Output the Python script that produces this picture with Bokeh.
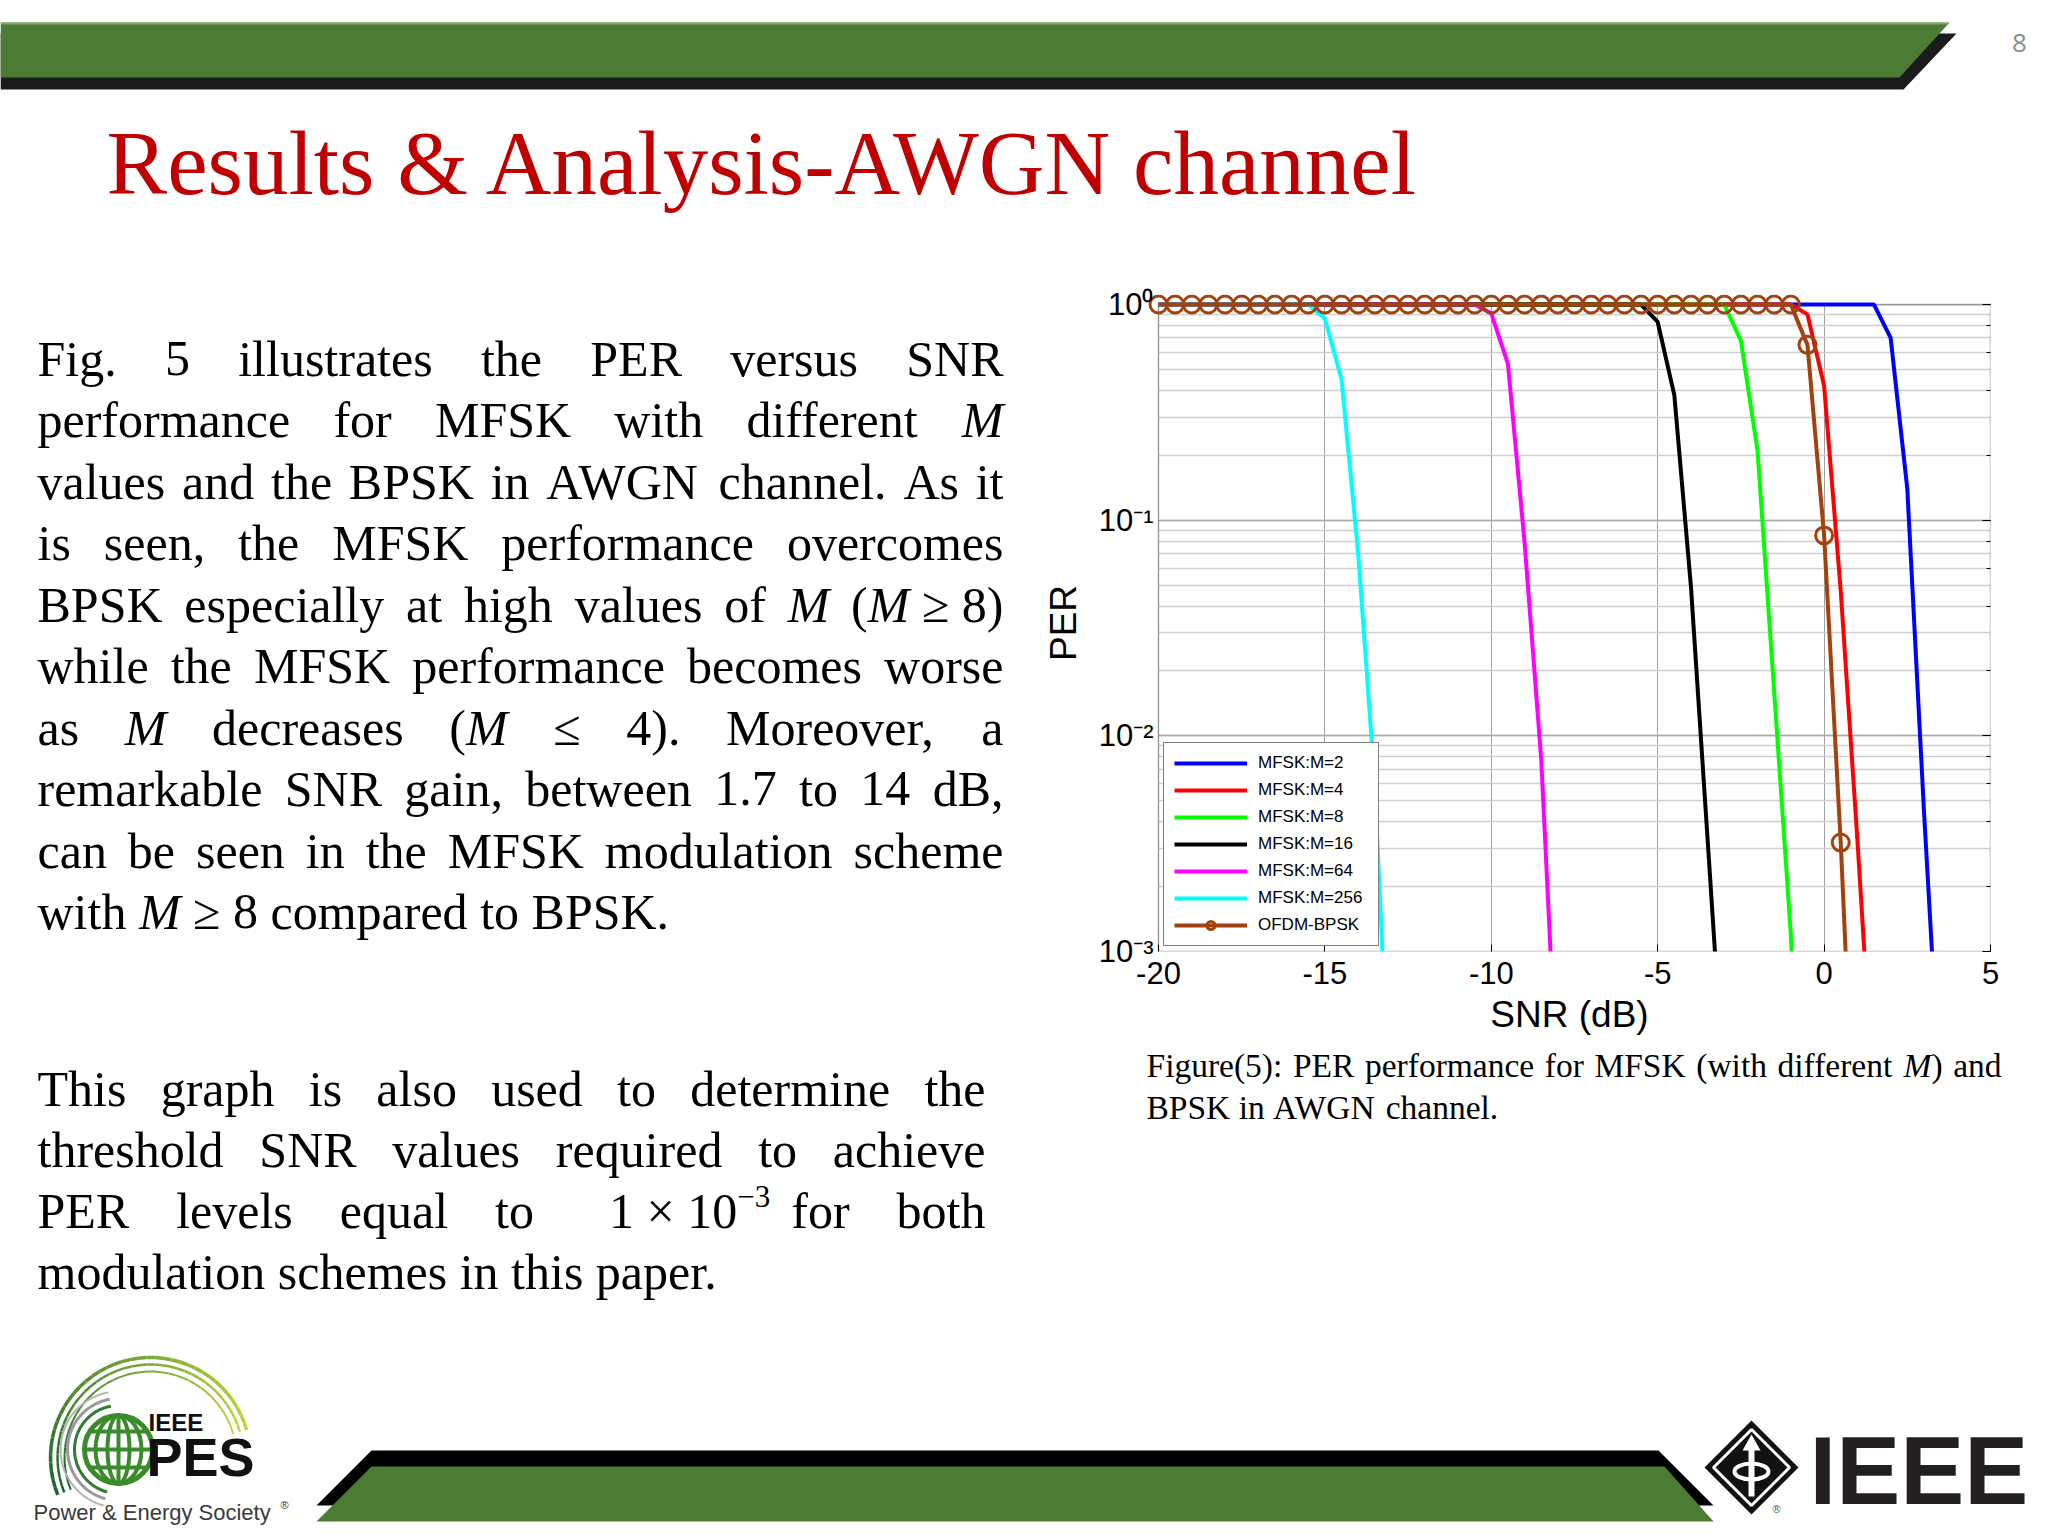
import numpy as np
from bokeh.plotting import figure
from bokeh.models import Range1d, LogAxis, FixedTicker, CustomJSTickFormatter, BoxAnnotation
from bokeh.layouts import column, row
from bokeh.core.properties import value
from bokeh.embed import file_html
from bokeh.resources import INLINE

# ---------------- chart data ----------------
snr_ticks = [-20, -15, -10, -5, 0, 5]

snr_bpsk = [-20.0, -19.5, -19.0, -18.5, -18.0, -17.5, -17.0, -16.5, -16.0, -15.5,
            -15.0, -14.5, -14.0, -13.5, -13.0, -12.5, -12.0, -11.5, -11.0, -10.5,
            -10.0, -9.5, -9.0, -8.5, -8.0, -7.5, -7.0, -6.5, -6.0, -5.5,
            -5.0, -4.5, -4.0, -3.5, -3.0, -2.5, -2.0, -1.5, -1.0, -0.5,
            0.0, 0.5, 1.0]
per_bpsk = [1.0, 1.0, 1.0, 1.0, 1.0, 1.0, 1.0, 1.0, 1.0, 1.0,
            1.0, 1.0, 1.0, 1.0, 1.0, 1.0, 1.0, 1.0, 1.0, 1.0,
            1.0, 1.0, 1.0, 1.0, 1.0, 1.0, 1.0, 1.0, 1.0, 1.0,
            1.0, 1.0, 1.0, 1.0, 1.0, 1.0, 1.0, 1.0, 1.0, 0.65,
            0.085, 0.0032, 0.00006]

snr_m2 = [-20.0, 1.5, 2.0, 2.5, 3.0, 3.5]
per_m2 = [1.0, 1.0, 0.70, 0.14, 0.0045, 0.0002]

snr_m4 = [-20.0, -1.0, -0.5, 0.0, 0.5, 1.0, 1.5]
per_m4 = [1.0, 1.0, 0.90, 0.42, 0.047, 0.0033, 0.00019]

snr_m8 = [-20.0, -3.0, -2.5, -2.0, -1.5, -1.0, -0.5]
per_m8 = [1.0, 1.0, 0.68, 0.21, 0.016, 0.0012, 0.00003]

snr_m16 = [-20.0, -5.5, -5.0, -4.5, -4.0, -3.5, -3.0]
per_m16 = [1.0, 1.0, 0.83, 0.38, 0.049, 0.0033, 0.00022]

snr_m64 = [-20.0, -10.5, -10.0, -9.5, -9.0, -8.5, -8.0]
per_m64 = [1.0, 1.0, 0.91, 0.53, 0.079, 0.0078, 0.0002]

snr_m256 = [-20.0, -15.5, -15.0, -14.5, -14.0, -13.5, -13.0]
per_m256 = [1.0, 1.0, 0.86, 0.45, 0.07, 0.006, 0.00012]

mfsk_labels = ["MFSK:M=2", "MFSK:M=4", "MFSK:M=8", "MFSK:M=16", "MFSK:M=64", "MFSK:M=256"]
mfsk_colors = ["#0000ff", "#ff0000", "#00ff00", "#000000", "#ff00ff", "#00ffff"]
bpsk_label = "OFDM-BPSK"
bpsk_color = "#a2420f"

# ---------------- slide text ----------------
title_text = "Results & Analysis-AWGN channel"
page_number = "8"
para1_lines = [
    ("Fig. 5 illustrates the PER versus SNR", True),
    ("performance for MFSK with different *M*", True),
    ("values and the BPSK in AWGN channel. As it", True),
    ("is seen, the MFSK performance overcomes", True),
    ("BPSK especially at high values of *M* (*M*~≥~8)", True),
    ("while the MFSK performance becomes worse", True),
    ("as *M* decreases (*M* ≤ 4). Moreover, a", True),
    ("remarkable SNR gain, between 1.7 to 14 dB,", True),
    ("can be seen in the MFSK modulation scheme", True),
    ("with *M* ≥ 8 compared to BPSK.", False),
]
para2_line1 = "This graph is also used to determine the"
para2_line2 = "threshold SNR values required to achieve"
para2_line3a = "PER levels equal to"
para2_math = ("1 × 10", "−3")
para2_line3b = "for both"
para2_line4 = "modulation schemes in this paper."
caption_line1 = "Figure(5): PER performance for MFSK (with different *M*) and"
caption_line2 = "BPSK in AWGN channel."

SERIF = "Liberation Serif"
SANS = "Liberation Sans"
MID = {SERIF: 0.3375, SANS: 0.3465, "Open Sans": 0.388}

TIMES = {' ': 250, '!': 333, '(': 333, ')': 333, ',': 250, '-': 333, '.': 250, ':': 278,
         '0': 500, '1': 500, '2': 500, '3': 500, '4': 500, '5': 500, '6': 500, '7': 500,
         '8': 500, '9': 500, 'A': 722, 'B': 667, 'C': 667, 'D': 722, 'E': 611, 'F': 556,
         'G': 722, 'H': 722, 'I': 333, 'K': 722, 'M': 889, 'N': 722, 'P': 556, 'R': 667,
         'S': 556, 'T': 611, 'W': 944, 'a': 444, 'b': 500, 'c': 444, 'd': 500, 'e': 444,
         'f': 333, 'g': 500, 'h': 500, 'i': 278, 'j': 278, 'k': 500, 'l': 278, 'm': 778,
         'n': 500, 'o': 500, 'p': 500, 'q': 500, 'r': 333, 's': 389, 't': 278, 'u': 500,
         'v': 500, 'w': 722, 'x': 500, 'y': 500, 'z': 444, '≥': 549, '≤': 549, '×': 564,
         '−': 564}
TIMES_IT = {'M': 833}


def parse_word(w):
    parts = w.split("*")
    segs = []
    for i, t in enumerate(parts):
        if t:
            segs.append((t.replace("~", " "), i % 2 == 1, 1.0, 0.0))
    return segs


def seg_w(seg, fs):
    t, it, sc, dy = seg
    s = 0
    for ch in t:
        if it and ch in TIMES_IT:
            s += TIMES_IT[ch]
        else:
            s += TIMES.get(ch, 500)
    return s * fs * sc / 1000.0


def layout_line(words, L, R, y, fs, justify, weights=None):
    widths = [sum(seg_w(s, fs) for s in w) for w in words]
    n = len(words)
    if justify and n > 1:
        if weights is None:
            weights = [1.0] * (n - 1)
        unit = (R - L - sum(widths)) / sum(weights)
        gaps = [unit * wt for wt in weights]
    else:
        gaps = [0.25 * fs] * (n - 1)
    out = []
    x = L
    for i, w in enumerate(words):
        xs = x
        for seg in w:
            t, it, sc, dy = seg
            lead = len(t) - len(t.lstrip(" "))
            out.append((xs + lead * 0.25 * fs * sc, y + dy * fs, t.strip(), it, fs * sc))
            xs += seg_w(seg, fs)
        x += widths[i] + (gaps[i] if i < n - 1 else 0)
    return out


def put_text(p, x, y_base, txt, fs, font=SANS, color="black", style="normal", align="left"):
    p.text(x=[x], y=[y_base - MID[font] * fs], text=[txt], text_font=value(font),
           text_font_size=value(f"{fs}px"), text_font_style=value(style),
           text_color=value(color), text_baseline=value("middle"), text_align=value(align))


def draw_segments(p, segs, color="black", font=SERIF):
    groups = {}
    for x, y, t, it, fs in segs:
        key = (it, round(fs, 2))
        groups.setdefault(key, ([], [], []))
        g = groups[key]
        g[0].append(x)
        g[1].append(y - MID[font] * fs)
        g[2].append(t)
    for (it, fs), (xs, ys, ts) in groups.items():
        p.text(x=xs, y=ys, text=ts, text_font=value(font), text_font_size=value(f"{fs}px"),
               text_font_style=value("italic" if it else "normal"), text_color=value(color),
               text_baseline=value("middle"), text_align=value("left"))


def canvas(x0, x1, y0, y1, **kw):
    p = figure(width=x1 - x0, height=y1 - y0, x_range=Range1d(x0, x1), y_range=Range1d(y1, y0),
               x_axis_type=None, y_axis_type=None, toolbar_location=None,
               output_backend="svg", min_border=0, **kw)
    p.outline_line_color = None
    p.background_fill_color = "white"
    p.border_fill_color = "white"
    return p


PAGE_W, PAGE_H = 2046, 1534
HEAD_B = 270
MID_B = 1330
LEFT_W = 1028
CHART_B = 1044
CH_L, CH_R = 120, 56

# ---------------- header ----------------
header = canvas(0, PAGE_W, 0, HEAD_B)
header.patch([0, 1956, 1903, 0], [33, 33, 89, 89], fill_color="#1b1b1b", line_color=None)
header.patch([0, 1949, 1899, 0], [22, 22, 77, 77], fill_color="#4c7b34", line_color=None)
header.line([0, 1948], [23, 23], line_color="#86a86a", line_width=2)
header.text(x=[2019], y=[42], text=[page_number], text_font=value("Open Sans"),
            text_font_size=value("26px"), text_color=value("#8c8c8c"),
            text_align=value("center"), text_baseline=value("middle"))
put_text(header, 106, 194, title_text, 91, font=SERIF, color="#c00000")

# ---------------- left text ----------------
left = canvas(0, LEFT_W, HEAD_B, MID_B)
FS = 50
L1, R1, R2 = 37, 1003, 985
segs = []
base1 = [375, 436, 498, 559, 621, 682, 744, 805, 867, 928]
for (txt, just), yb in zip(para1_lines, base1):
    words = [parse_word(w) for w in txt.split(" ")]
    segs += layout_line(words, L1, R1, yb, FS, just)
base2 = [1105, 1166, 1227, 1288]
segs += layout_line([parse_word(w) for w in para2_line1.split(" ")], L1, R2, base2[0], FS, True)
segs += layout_line([parse_word(w) for w in para2_line2.split(" ")], L1, R2, base2[1], FS, True)
math_word = [(para2_math[0], False, 1.0, 0.0), (para2_math[1], False, 0.62, -0.42)]
words3 = ([parse_word(w) for w in para2_line3a.split(" ")] + [math_word] +
          [parse_word(w) for w in para2_line3b.split(" ")])
segs += layout_line(words3, L1, R2, base2[2], FS, True, weights=[1, 1, 1, 1.6, 0.45, 1])
segs += layout_line([parse_word(w) for w in para2_line4.split(" ")], L1, R2, base2[3], FS, False)
draw_segments(left, segs)

# ---------------- chart ----------------
chart = figure(width=PAGE_W - LEFT_W, height=CHART_B - HEAD_B, x_range=Range1d(-20.3, 5),
               y_range=Range1d(1e-3, 1.113), y_axis_type="log",
               output_backend="svg", toolbar_location=None,
               min_border_left=CH_L, min_border_right=CH_R, min_border_top=24,
               min_border_bottom=CHART_B - HEAD_B - 24 - 657)
chart.outline_line_color = None
chart.background_fill_color = "white"

xa = chart.xaxis[0]
xa.ticker = FixedTicker(ticks=snr_ticks)
xa.formatter = CustomJSTickFormatter(code="return tick.toString();")
xa.major_tick_in = 7
xa.major_tick_out = 0
xa.minor_tick_in = 0
xa.minor_tick_out = 0
xa.axis_line_color = None
xa.major_label_text_font = SANS
xa.major_label_text_font_size = "31px"
xa.major_label_text_color = "black"
xa.major_label_standoff = 10
xa.axis_label = "SNR (dB)"
xa.axis_label_text_font = SANS
xa.axis_label_text_font_size = "37px"
xa.axis_label_text_font_style = "normal"
xa.axis_label_text_color = "black"
xa.axis_label_standoff = 7

ya = chart.yaxis[0]
ya.formatter = CustomJSTickFormatter(code="""
const e = Math.round(Math.log10(tick));
const m = {'0':'\u2070','1':'\u00b9','2':'\u00b2','3':'\u00b3','-':'\u207b'};
return '10' + String(e).split('').map(c => m[c]).join('');
""")
ya.major_tick_in = 0
ya.major_tick_out = 0
ya.minor_tick_in = 0
ya.minor_tick_out = 0
ya.axis_line_color = None
ya.major_label_text_font = SANS
ya.major_label_text_font_size = "31px"
ya.major_label_text_color = "black"
ya.major_label_standoff = -5
ya.axis_label = "PER"
ya.axis_label_text_font = SANS
ya.axis_label_text_font_size = "37px"
ya.axis_label_text_font_style = "normal"
ya.axis_label_text_color = "black"
ya.axis_label_standoff = 12

ra = LogAxis(formatter=CustomJSTickFormatter(code="return '';"),
             major_tick_in=8, major_tick_out=0, minor_tick_in=4, minor_tick_out=0,
             axis_line_color=None, major_label_standoff=0)
chart.add_layout(ra, "right")

chart.xgrid.grid_line_color = "#a0a0a0"
chart.xgrid.grid_line_width = 1
chart.ygrid.grid_line_color = "#a8a8a8"
chart.ygrid.grid_line_width = 1.5
chart.ygrid.minor_grid_line_color = "#cfcfcf"
chart.ygrid.minor_grid_line_width = 1.5

x_lo, x_hi = snr_ticks[0], snr_ticks[-1]
chart.add_layout(BoxAnnotation(right=x_lo, fill_color="white", fill_alpha=1,
                               line_alpha=0, level="underlay"))
chart.add_layout(BoxAnnotation(bottom=1.0, fill_color="white", fill_alpha=1,
                               line_alpha=0, level="underlay"))
chart.add_layout(BoxAnnotation(left=x_lo, right=x_hi, bottom=1e-3, top=1.0,
                               fill_alpha=0, line_color="black", line_width=1.5,
                               level="underlay"))

mfsk_x = [snr_m2, snr_m4, snr_m8, snr_m16, snr_m64, snr_m256]
mfsk_y = [per_m2, per_m4, per_m8, per_m16, per_m64, per_m256]
for xs, ys, lab, col in zip(mfsk_x, mfsk_y, mfsk_labels, mfsk_colors):
    chart.line(xs, ys, line_color=col, line_width=4, legend_label=lab)
chart.line(snr_bpsk, per_bpsk, line_color=bpsk_color, line_width=4, legend_label=bpsk_label)
chart.scatter(snr_bpsk, per_bpsk, marker="circle", size=17, fill_color=None,
              line_color=bpsk_color, line_width=3, legend_label=bpsk_label)

lg = chart.legend[0]
lg.location = (15, 5)
lg.margin = 0
lg.padding = 10
lg.spacing = 7
lg.glyph_width = 73
lg.glyph_height = 20
lg.label_height = 20
lg.label_width = 110
lg.label_standoff = 11
lg.label_text_font = SANS
lg.label_text_font_size = "17px"
lg.label_text_color = "black"
lg.border_line_color = "black"
lg.border_line_width = 1
lg.background_fill_alpha = 1

# ---------------- caption ----------------
caption = figure(width=PAGE_W - LEFT_W, height=MID_B - CHART_B,
                 x_range=Range1d(LEFT_W, PAGE_W), y_range=Range1d(MID_B, CHART_B),
                 x_axis_type=None, y_axis_type=None, toolbar_location=None,
                 output_backend="svg", min_border=0)
caption.outline_line_color = None
cap_L, cap_R = 1146, 2001
try:
    caption.frame_align = False
    chart.frame_align = False
except Exception:
    # frames get aligned with the chart: make the caption frame match it
    caption.min_border_left = CH_L
    caption.min_border_right = CH_R
    caption.x_range = Range1d(LEFT_W + CH_L, PAGE_W - CH_R)
    cap_L, cap_R = LEFT_W + CH_L + 1, PAGE_W - CH_R - 1
CFS = 33.5
csegs = layout_line([parse_word(w) for w in caption_line1.split(" ")], cap_L, cap_R,
                    1076, CFS, True)
csegs += layout_line([parse_word(w) for w in caption_line2.split(" ")], cap_L, cap_R,
                     1118, CFS, False)
draw_segments(caption, csegs)

# ---------------- footer ----------------
footer = canvas(0, PAGE_W, MID_B, PAGE_H)
footer.patch([371, 1658, 1713, 316], [1450, 1450, 1505, 1505], fill_color="#000000", line_color=None)
footer.patch([371, 1664, 1713, 316], [1466, 1466, 1521, 1521], fill_color="#4c7b34", line_color=None)


def arc_pts(cx, cy, r, t0, t1, n):
    t = np.radians(np.linspace(t0, t1, n))
    return cx + r * np.cos(t), cy - r * np.sin(t)


def hexmix(c0, c1, f):
    c = [int(round(a + (b - a) * f)) for a, b in zip(c0, c1)]
    return "#%02x%02x%02x" % tuple(c)


sw_xs, sw_ys, sw_c, sw_w = [], [], [], []
for r, lw in [(100, 3.5), (93, 2.5), (86, 2)]:
    ax, ay = arc_pts(150, 1457, r, 202, 16, 40)
    for i in range(len(ax) - 1):
        sw_xs.append([ax[i], ax[i + 1]])
        sw_ys.append([ay[i], ay[i + 1]])
        sw_c.append(hexmix((25, 100, 45), (190, 215, 60), i / (len(ax) - 2)))
        sw_w.append(lw)
footer.multi_line(sw_xs, sw_ys, line_color=sw_c, line_width=sw_w)
gx, gy, gr = 118, 1449, 34
for r, col, lw in [(44, "#2f7d32", 3), (51, "#9a9a9a", 3), (58, "#b5b5b5", 2)]:
    ax, ay = arc_pts(gx, gy, r, 100, 255, 30)
    footer.line(ax, ay, line_color=col, line_width=lw)
gcol = "#3b8b2c"
footer.circle(x=[gx], y=[gy], radius=gr, fill_color="white", line_color=gcol, line_width=5)
footer.ellipse(x=[gx, gx], y=[gy, gy], width=[22, 46], height=[2 * gr, 2 * gr],
               fill_color=None, line_color=gcol, line_width=4)
chord_dy = np.array([-18.0, 0.0, 18.0])
chord_hw = np.sqrt(gr ** 2 - chord_dy ** 2)
footer.segment(x0=list(gx - chord_hw) + [gx], y0=list(gy + chord_dy) + [gy - gr],
               x1=list(gx + chord_hw) + [gx], y1=list(gy + chord_dy) + [gy + gr],
               line_color=gcol, line_width=4)
put_text(footer, 148, 1430, "IEEE", 24, style="bold", color="#111111")
put_text(footer, 146, 1475, "PES", 54, style="bold", color="#111111")
put_text(footer, 33, 1520, "Power & Energy Society", 22, color="#3a3a3a")
put_text(footer, 280, 1508, "®", 11, color="#3a3a3a")

# IEEE logo
footer.patch([1704, 1751, 1798, 1751], [1467, 1420, 1467, 1514], fill_color="#111111", line_color=None)
footer.patch([1713, 1751, 1789, 1751], [1467, 1429, 1467, 1505], fill_color=None,
             line_color="white", line_width=3)
footer.segment(x0=[1751], y0=[1442], x1=[1751], y1=[1496], line_color="white", line_width=6)
footer.patch([1742, 1751, 1760], [1450, 1434, 1450], fill_color="white", line_color=None)
footer.ellipse(x=[1751], y=[1471], width=[34], height=[16], fill_color=None,
               line_color="white", line_width=4)
put_text(footer, 1772, 1512, "®", 11, color="#555555")
put_text(footer, 1809, 1503, "IEEE", 96, style="bold", color="#231f20")

page = column(header, row(left, column(chart, caption, spacing=0), spacing=0), footer, spacing=0)
open("out.html", "w").write(file_html(page, INLINE, "Results & Analysis-AWGN channel"))
